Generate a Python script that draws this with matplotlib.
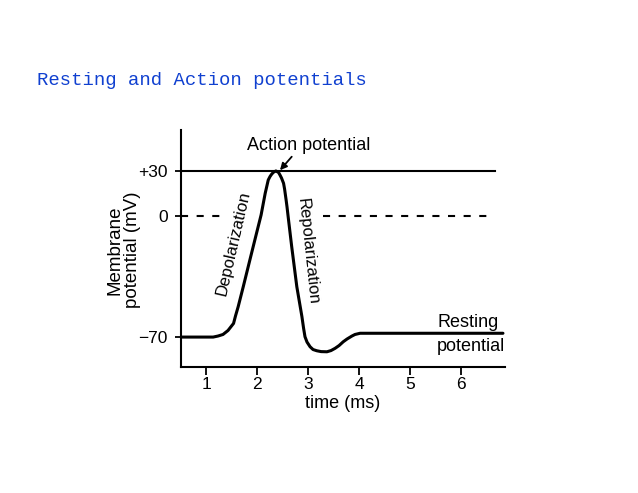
import numpy as np
import matplotlib
matplotlib.use("Agg")
import matplotlib.pyplot as plt

# ---- data ----
time_ms = [0.51, 1.14, 1.235, 1.333, 1.431, 1.54, 1.578, 1.63, 1.73, 1.86,
           1.99, 2.08, 2.16, 2.22, 2.255, 2.29, 2.324, 2.37, 2.422, 2.45,
           2.48, 2.52, 2.54, 2.57, 2.588, 2.61, 2.68, 2.78, 2.88, 2.912,
           2.94, 2.98, 3.04, 3.098, 3.17, 3.255, 3.37, 3.45, 3.53, 3.608,
           3.69, 3.765, 3.86, 3.92, 4.02, 4.12, 6.82]
potential_mv = [-70, -70, -69.4, -68.5, -66.2, -62.1, -57.8, -52.5, -40.9, -25.4,
                -10.0, 0.7, 15.1, 24.0, 26.3, 28.0, 29.2, 30.0, 29.0, 27.3,
                25.3, 21.8, 18.0, 10.7, 6.0, -0.4, -17.8, -40.9, -58.2, -64.8,
                -69.8, -72.9, -75.6, -77.2, -77.9, -78.4, -78.5, -77.8, -76.5, -74.9,
                -72.7, -71.1, -69.4, -68.5, -67.8, -67.8, -67.8]
y_ticks = [30, 0, -70]
y_tick_labels = ["+30", "0", "\u221270"]
x_ticks = [1, 2, 3, 4, 5, 6]
x_tick_labels = ["1", "2", "3", "4", "5", "6"]

plt.rcParams['font.family'] = ['Liberation Sans', 'DejaVu Sans']

fig = plt.figure(figsize=(6.38, 4.93), dpi=100)
W, H = 638, 493
ax = fig.add_axes([181 / W, 1 - 367 / H, (505 - 181) / W, (367 - 130) / H])

# schematic (not-to-scale) axis: different spacing above and below 0 mV
def fwd(v):
    v = np.asarray(v, dtype=float)
    return np.where(v >= 0, v * 1.5, v * 1.729)

def inv(u):
    u = np.asarray(u, dtype=float)
    return np.where(u >= 0, u / 1.5, u / 1.729)

ax.set_yscale('function', functions=(fwd, inv))
ax.set_xlim(0.51, 6.86)
ax.set_ylim(-87.3, 57.3)

ax.plot(time_ms, potential_mv, color='black', lw=2.2, solid_capstyle='round',
        solid_joinstyle='round', zorder=3)

# +30 reference line and dashed 0 line
ax.plot([0.51, 6.67], [30, 30], color='black', lw=1.5, zorder=2)
ax.plot([0.51, 1.37], [0, 0], color='black', lw=1.5, linestyle=(0, (3.4, 4.1)), zorder=2)
ax.plot([3.3, 6.5], [0, 0], color='black', lw=1.5, linestyle=(0, (3.4, 4.1)), zorder=2)

for s in ['top', 'right']:
    ax.spines[s].set_visible(False)
for s in ['left', 'bottom']:
    ax.spines[s].set_linewidth(1.5)

ax.set_yticks(y_ticks)
ax.set_yticklabels(y_tick_labels)
ax.set_xticks(x_ticks)
ax.set_xticklabels(x_tick_labels)
ax.yaxis.set_minor_locator(matplotlib.ticker.NullLocator())
ax.tick_params(axis='y', direction='out', length=4.5, width=1.3, pad=5, labelsize=12.5)
ax.tick_params(axis='x', direction='out', length=5.5, width=1.3, pad=2, labelsize=12.5)

ax.set_xlabel("time (ms)", fontsize=13, labelpad=2)

fig.text(124 / W, 1 - 250 / H, "Membrane\npotential (mV)", rotation=90,
         ha='center', va='center', fontsize=13.5, multialignment='center',
         linespacing=1.05)

# annotations
ax.annotate("", xy=(2.45, 30.5), xytext=(2.68, 39.5),
            arrowprops=dict(arrowstyle='-|>', color='black', lw=1.3, mutation_scale=10,
                            shrinkA=0, shrinkB=0))
ax.text(3.02, 46.7, "Action potential", ha='center', va='center', fontsize=13)
ax.text(1.53, -15.6, "Depolarization", rotation=77, ha='center', va='center',
        fontsize=12, rotation_mode='anchor')
ax.text(2.99, -20.2, "Repolarization", rotation=-84, ha='center', va='center',
        fontsize=12, rotation_mode='anchor')
ax.text(6.13, -64.0, "Resting", ha='center', va='baseline', fontsize=13)
ax.text(6.20, -77.8, "potential", ha='center', va='baseline', fontsize=13)

# slide title
fig.text(37 / W, 1 - 85 / H, "Resting and Action potentials", ha='left', va='baseline',
         fontsize=13.6, color='#1040d0', family=['Liberation Mono', 'DejaVu Sans Mono'])

fig.savefig("out.png", dpi=100)
